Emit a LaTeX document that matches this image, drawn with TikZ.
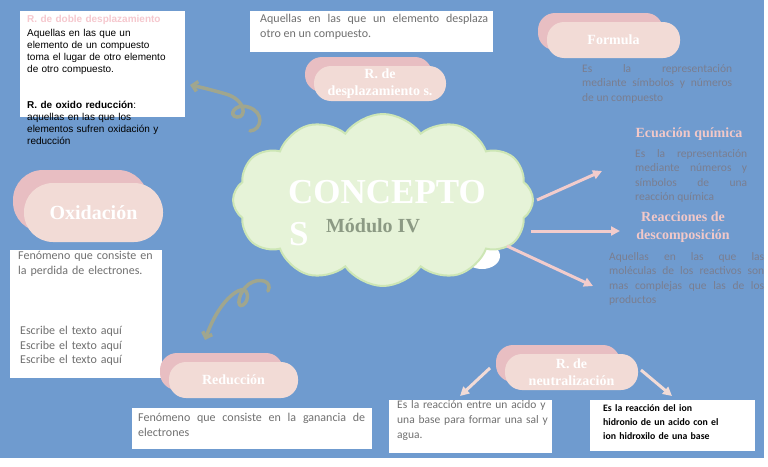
\documentclass[tikz,border=0pt]{standalone}
\usepackage{fontspec}
\setmainfont{Liberation Serif}
\newfontfamily\arialfont{Liberation Sans}
\newfontfamily\calfont{Carlito}
\usetikzlibrary{shapes.symbols,arrows.meta}

\definecolor{backblue}{RGB}{111,155,207}
\definecolor{pillfront}{RGB}{242,219,214}
\definecolor{pillrear}{RGB}{232,190,194}
\definecolor{headpink}{RGB}{242,200,200}
\definecolor{titlepink}{RGB}{246,200,206}
\definecolor{arrowpink}{RGB}{242,204,204}
\definecolor{greytext}{RGB}{112,112,112}
\definecolor{bluegrey}{RGB}{122,126,144}
\definecolor{cloudfill}{RGB}{230,243,216}
\definecolor{cloudline}{RGB}{205,230,181}
\definecolor{curlgrey}{RGB}{160,166,142}
\definecolor{modgrey}{RGB}{140,154,132}

\begin{document}
\begin{tikzpicture}[x=1pt,y=-1pt,
  pill/.style={fill=pillfront, rounded corners=17pt, text=white, align=center, inner sep=0pt,
    font=\bfseries\fontsize{14}{17}\selectfont},
  pillback/.style={fill=pillrear, rounded corners=17pt},
  note/.style={anchor=north west, inner sep=0pt, align=justify, text=greytext,
    font=\calfont\fontsize{12}{15}\selectfont},
  bluenote/.style={note, text=bluegrey, font=\calfont\fontsize{11.5}{14.6}\selectfont},
  heading/.style={text=headpink, align=center, inner sep=0pt, font=\bfseries\fontsize{14}{18}\selectfont},
  link/.style={draw=arrowpink, line width=3pt, -{Triangle[length=9pt,width=9pt]}},
  curl/.style={draw=curlgrey, line width=3.5pt, line cap=round, -{Straight Barb[length=5pt,width=10pt]}}]
  \useasboundingbox (0,0) rectangle (768,466);
  \fill[white] (0,0) rectangle (768,466);
  \fill[backblue] (0,0) rectangle (764,458);

  % top left
  \fill[white] (20,11) rectangle (185,117);
  \node[anchor=north west, inner sep=0pt, text width=160pt, align=left,
    font=\arialfont\fontsize{10}{12}\selectfont] (doble) at (27,15)
    {\textbf{\color{titlepink}R. de doble desplazamiento}\\[2pt]
     Aquellas en las que un\\ elemento de un compuesto\\ toma el lugar de otro elemento\\ de otro compuesto.\\[24pt]
     \textbf{R. de oxido reducción}:\\ aquellas en las que los\\ elementos sufren oxidación y\\ reducción};

  % top middle
  \fill[white] (250,11) rectangle (493,52);
  \node[note, text width=228pt] (simpletxt) at (260,14)
    {Aquellas en las que un elemento desplaza\linebreak otro en un compuesto.};
  \fill[pillback] (305,57) rectangle (432,92);
  \node[pill, minimum width=132pt, minimum height=35pt] (simple) at (380,83.5) {R. de\\desplazamiento s.};

  % right side
  \fill[pillback] (538,13) rectangle (663,50);
  \node[pill, minimum width=133pt, minimum height=36pt] (formula) at (613.5,40) {Formula};
  \node[bluenote, text width=150pt] (formulatxt) at (582,64)
    {Es la representación\linebreak mediante símbolos y números\linebreak de un compuesto};
  \node[heading] (ecuacion) at (689,134) {Ecuación química};
  \node[bluenote, text width=112pt] (ecuaciontxt) at (635,149)
    {Es la representación\linebreak mediante números y\linebreak símbolos de una\linebreak reacción química};
  \node[heading] (descomp) at (683,227) {Reacciones de\\descomposición};
  \node[bluenote, text width=155pt] (descomptxt) at (609,252)
    {Aquellas en las que las\linebreak moléculas de los reactivos son\linebreak mas complejas que las de los\linebreak productos};

  % centre
  \fill[white] (482,256) ellipse (18pt and 13pt);
  \node[cloud, cloud puffs=12, cloud puff arc=110, aspect=1.7, fill=cloudfill, draw=cloudline,
    line width=2pt, minimum width=300pt, minimum height=172pt] (conceptos) at (383,200) {};
  \node[anchor=west, inner sep=0pt, text=white, font=\bfseries\fontsize{35}{40}\selectfont] (titulo) at (288,192) {CONCEPTO};
  \node[anchor=west, inner sep=0pt, text=white, font=\bfseries\fontsize{35}{40}\selectfont] (titulos) at (289,234) {S};
  \node[inner sep=0pt, text=modgrey, font=\bfseries\fontsize{20}{24}\selectfont] (modulo) at (373,226) {Módulo IV};
  \coordinate (c1) at (537,200);
  \coordinate (c2) at (531,231);
  \coordinate (c3) at (507,246);
  \coordinate (e1) at (602,171);
  \coordinate (e2) at (620,231);
  \coordinate (e3) at (593,286);
  \draw[link] (c1) -- (e1);
  \draw[link] (c2) -- (e2);
  \draw[link] (c3) -- (e3);

  % curly arrows
  \draw[curl] (250,131) .. controls (262,130) and (265,112) .. (248,107)
    .. controls (234,103) and (228,116) .. (237,117)
    .. controls (247,118) and (246,100) .. (226,94)
    .. controls (212,90) and (200,87) .. (190,85);
  \draw[curl] (268,291) .. controls (273,281) and (259,277) .. (249,284)
    .. controls (238,292) and (236,309) .. (243,305)
    .. controls (250,301) and (249,285) .. (238,291)
    .. controls (223,299) and (212,320) .. (205,340);

  % left side
  \fill[pillback, rounded corners=30pt] (13,170) rectangle (148,232);
  \node[pill, rounded corners=29pt, minimum width=139pt, minimum height=59pt,
    font=\bfseries\fontsize{20}{24}\selectfont] (oxidacion) at (93.5,212.5) {Oxidación};
  \fill[white] (10,250) rectangle (162,378);
  \node[note, text width=142pt, align=left] (oxidaciontxt) at (18,251)
    {Fenómeno que consiste en\\ la perdida de electrones.};
  \node[note, text width=130pt, align=left, font=\calfont\fontsize{12}{14.5}\selectfont] (escribe) at (20,326)
    {Escribe el texto aquí\\ Escribe el texto aquí\\ Escribe el texto aquí};

  \fill[pillback] (160,353) rectangle (283,390);
  \node[pill, minimum width=129pt, minimum height=36pt] (reduccion) at (233.5,380) {Reducción};
  \fill[white] (132,408) rectangle (372,449);
  \node[note, text width=227pt] (reducciontxt) at (138,413)
    {Fenómeno que consiste en la ganancia de\linebreak electrones};

  % bottom right
  \fill[pillback] (496,345) rectangle (620,382);
  \node[pill, minimum width=133pt, minimum height=36pt] (neutral) at (571.5,372) {R. de\\neutralización};
  \coordinate (n1) at (490,368);
  \coordinate (n2) at (641,370);
  \coordinate (m1) at (460,396);
  \coordinate (m2) at (672,396);
  \draw[link, draw=pillfront] (n1) -- (m1);
  \draw[link, draw=pillfront] (n2) -- (m2);
  \fill[white] (389,400) rectangle (552,453);
  \node[note, text width=158pt, align=left, font=\calfont\fontsize{11.5}{15}\selectfont] (neutraltxt) at (397,400)
    {Es la reacción entre un acido y\\ una base para formar una sal y\\ agua.};
  \fill[white] (590,400) rectangle (755,451);
  \node[note, text width=150pt, align=left, text=black, font=\calfont\bfseries\fontsize{9.8}{14}\selectfont] (ionestxt) at (603,404)
    {Es la reacción del ion\\ hidronio de un acido con el\\ ion hidroxilo de una base};
\end{tikzpicture}
\end{document}
